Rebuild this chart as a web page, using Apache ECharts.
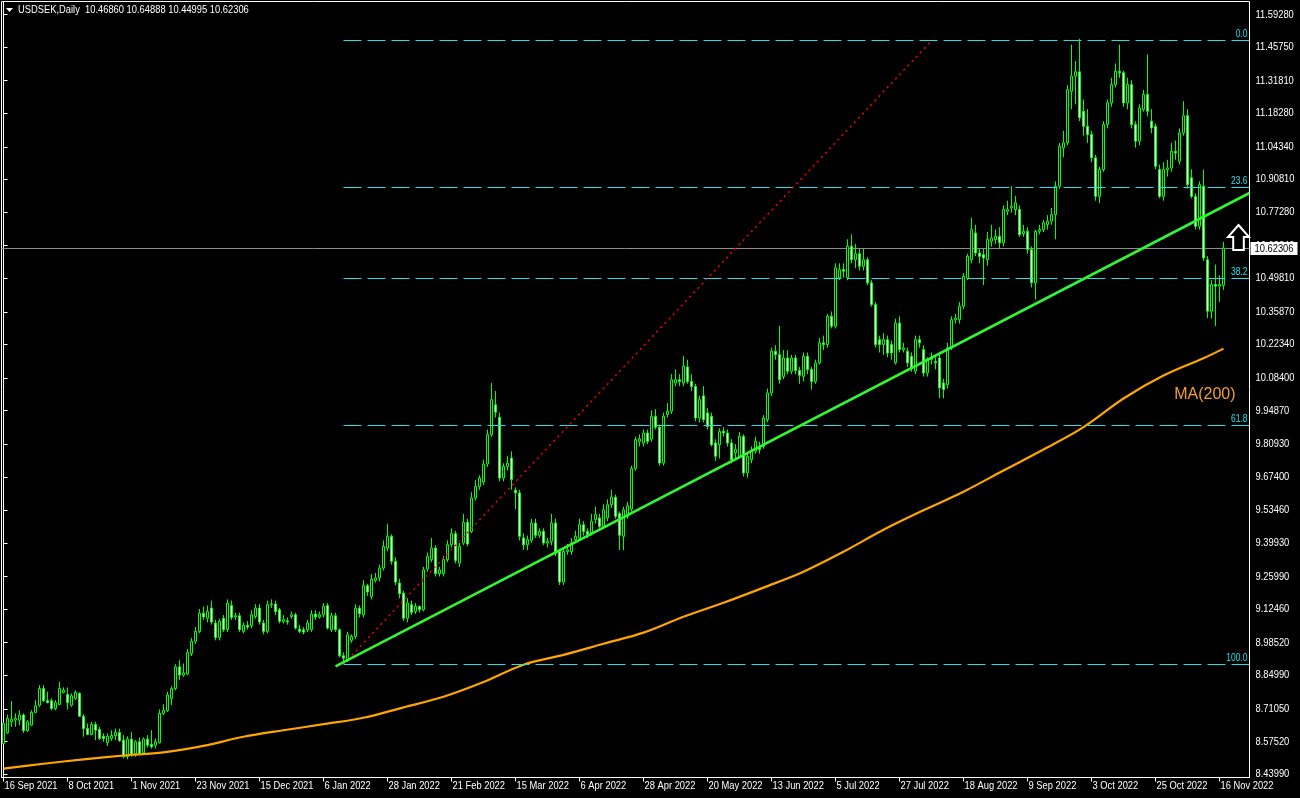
<!DOCTYPE html>
<html><head><meta charset="utf-8">
<script src="https://cdn.jsdelivr.net/npm/echarts@6/dist/echarts.min.js"></script>
<style>html,body{margin:0;padding:0;background:#000;overflow:hidden}#c{width:1300px;height:798px;}</style>
</head><body><div id="c"></div>
<script>
const symbolTitle = 'USDSEK,Daily  10.46860 10.64888 10.44995 10.62306';
const firstDate = [2021, 8, 16];
const barCount = 306;
const slotCount = 312;
const labelEvery = 16;
// [open, close, low, high]
const candles = [
[8.567,8.650,8.563,8.655],[8.611,8.671,8.607,8.687],[8.657,8.667,8.636,8.743],[8.664,8.671,8.636,8.692],[8.664,8.685,8.643,8.705],
[8.685,8.620,8.611,8.692],[8.620,8.657,8.615,8.664],[8.643,8.696,8.639,8.705],[8.696,8.723,8.692,8.747],[8.726,8.795,8.719,8.809],
[8.795,8.744,8.740,8.809],[8.745,8.737,8.733,8.782],[8.744,8.712,8.705,8.754],[8.712,8.736,8.705,8.747],[8.729,8.795,8.726,8.823],
[8.779,8.788,8.775,8.800],[8.770,8.736,8.708,8.800],[8.726,8.765,8.719,8.775],[8.754,8.779,8.747,8.788],[8.775,8.680,8.678,8.779],
[8.680,8.629,8.595,8.689],[8.629,8.604,8.602,8.650],[8.604,8.646,8.602,8.657],[8.646,8.622,8.581,8.657],[8.625,8.588,8.581,8.636],
[8.597,8.588,8.574,8.609],[8.570,8.597,8.556,8.609],[8.588,8.600,8.578,8.622],[8.599,8.613,8.581,8.629],[8.613,8.578,8.574,8.629],
[8.581,8.512,8.505,8.602],[8.512,8.585,8.501,8.597],[8.585,8.523,8.512,8.615],[8.523,8.574,8.512,8.581],[8.574,8.526,8.519,8.592],
[8.528,8.585,8.519,8.592],[8.585,8.560,8.550,8.602],[8.564,8.553,8.546,8.622],[8.560,8.574,8.546,8.588],[8.570,8.692,8.567,8.708],
[8.692,8.705,8.685,8.730],[8.703,8.768,8.698,8.782],[8.754,8.795,8.726,8.805],[8.795,8.885,8.788,8.896],[8.885,8.851,8.830,8.913],
[8.851,8.860,8.844,8.899],[8.856,8.945,8.850,8.960],[8.940,8.991,8.930,9.005],[8.991,9.032,8.980,9.050],[9.032,9.108,9.025,9.125],
[9.108,9.092,9.080,9.135],[9.087,9.115,9.070,9.140],[9.129,9.071,9.060,9.160],[9.067,9.007,8.995,9.080],[9.007,9.074,8.995,9.085],
[9.087,9.039,9.030,9.100],[9.040,9.150,9.030,9.165],[9.140,9.090,9.080,9.160],[9.092,9.097,9.080,9.110],[9.097,9.039,9.030,9.110],
[9.032,9.057,9.025,9.070],[9.057,9.050,9.040,9.075],[9.056,9.101,9.045,9.120],[9.094,9.129,9.085,9.145],[9.129,9.071,9.060,9.145],
[9.067,9.032,9.020,9.080],[9.032,9.143,9.025,9.160],[9.143,9.146,9.130,9.165],[9.146,9.115,9.100,9.160],[9.122,9.074,9.065,9.130],
[9.074,9.081,9.065,9.100],[9.076,9.071,9.060,9.090],[9.094,9.101,9.085,9.115],[9.101,9.046,9.040,9.110],[9.042,9.032,9.025,9.060],
[9.039,9.029,9.020,9.050],[9.039,9.067,9.030,9.080],[9.039,9.104,9.030,9.120],[9.104,9.092,9.080,9.120],[9.092,9.101,9.085,9.115],
[9.101,9.136,9.090,9.150],[9.140,9.046,9.040,9.150],[9.039,9.097,9.030,9.110],[9.097,9.039,9.030,9.110],[9.039,8.931,8.925,9.045],
[8.931,8.921,8.898,8.945],[8.915,9.018,8.905,9.030],[8.995,9.011,8.985,9.020],[9.011,9.129,9.000,9.145],[9.129,9.106,9.090,9.140],
[9.101,9.222,9.090,9.245],[9.222,9.196,9.180,9.230],[9.177,9.249,9.165,9.270],[9.244,9.254,9.235,9.275],[9.254,9.295,9.240,9.310],
[9.295,9.385,9.285,9.410],[9.378,9.427,9.365,9.479],[9.427,9.323,9.310,9.435],[9.323,9.237,9.225,9.340],[9.233,9.189,9.170,9.250],
[9.191,9.087,9.075,9.200],[9.087,9.150,9.070,9.170],[9.143,9.111,9.100,9.160],[9.115,9.136,9.105,9.150],[9.136,9.122,9.110,9.140],
[9.122,9.288,9.115,9.300],[9.291,9.344,9.280,9.360],[9.330,9.378,9.320,9.420],[9.378,9.272,9.260,9.390],[9.272,9.288,9.260,9.300],
[9.272,9.330,9.260,9.345],[9.330,9.392,9.320,9.410],[9.392,9.438,9.380,9.460],[9.438,9.327,9.315,9.450],[9.316,9.385,9.300,9.400],
[9.399,9.485,9.390,9.520],[9.485,9.395,9.385,9.500],[9.447,9.586,9.440,9.610],[9.586,9.634,9.575,9.660],[9.634,9.669,9.620,9.680],
[9.652,9.727,9.640,9.745],[9.727,9.849,9.715,9.870],[9.849,9.994,9.840,10.063],[9.973,9.942,9.920,10.030],[9.921,9.669,9.655,9.940],
[9.669,9.717,9.655,9.730],[9.717,9.731,9.700,9.760],[9.752,9.662,9.620,9.780],[9.618,9.607,9.540,9.630],[9.607,9.427,9.410,9.620],
[9.420,9.392,9.370,9.440],[9.392,9.413,9.370,9.430],[9.410,9.482,9.400,9.500],[9.482,9.431,9.420,9.500],[9.431,9.447,9.420,9.460],
[9.447,9.399,9.390,9.460],[9.399,9.406,9.380,9.420],[9.406,9.482,9.390,9.520],[9.482,9.357,9.345,9.500],[9.364,9.237,9.225,9.375],
[9.237,9.364,9.225,9.380],[9.364,9.371,9.350,9.395],[9.364,9.399,9.350,9.420],[9.413,9.427,9.400,9.450],[9.420,9.475,9.410,9.500],
[9.475,9.447,9.430,9.490],[9.447,9.434,9.420,9.460],[9.441,9.489,9.430,9.520],[9.496,9.517,9.480,9.550],[9.503,9.468,9.455,9.520],
[9.468,9.537,9.460,9.560],[9.503,9.558,9.490,9.580],[9.558,9.590,9.545,9.620],[9.589,9.510,9.500,9.600],[9.521,9.431,9.370,9.530],
[9.427,9.537,9.370,9.550],[9.510,9.554,9.500,9.570],[9.540,9.708,9.530,9.720],[9.708,9.828,9.700,9.840],[9.821,9.831,9.800,9.850],
[9.814,9.856,9.800,9.870],[9.856,9.820,9.810,9.870],[9.830,9.925,9.820,9.950],[9.925,9.880,9.870,9.955],[9.880,9.731,9.720,9.890],
[9.731,9.925,9.720,9.940],[9.932,9.946,9.920,9.980],[9.946,10.077,9.935,10.100],[10.063,10.077,10.050,10.120],[10.077,10.070,10.050,10.100],
[10.063,10.133,10.050,10.175],[10.130,10.070,10.060,10.160],[10.070,10.049,10.030,10.100],[10.049,9.918,9.905,10.060],[9.918,9.994,9.900,10.010],
[10.010,9.911,9.900,10.050],[9.939,9.883,9.870,9.960],[9.925,9.807,9.800,9.940],[9.814,9.759,9.740,9.830],[9.807,9.863,9.750,9.875],
[9.863,9.856,9.840,9.880],[9.856,9.814,9.800,9.870],[9.814,9.745,9.730,9.830],[9.773,9.787,9.750,9.810],[9.759,9.842,9.750,9.860],
[9.842,9.690,9.675,9.850],[9.690,9.759,9.670,9.770],[9.745,9.780,9.730,9.800],[9.780,9.821,9.770,9.840],[9.800,9.787,9.770,9.820],
[9.800,9.918,9.790,9.930],[9.911,10.022,9.900,10.040],[10.022,10.195,10.010,10.210],[10.195,10.181,10.160,10.220],[10.181,10.077,10.060,10.300],
[10.090,10.167,10.080,10.200],[10.167,10.112,10.100,10.200],[10.112,10.167,10.100,10.180],[10.167,10.115,10.100,10.180],[10.115,10.095,10.060,10.130],
[10.091,10.174,10.070,10.190],[10.174,10.119,10.100,10.190],[10.119,10.070,10.036,10.130],[10.070,10.147,10.060,10.160],[10.147,10.230,10.140,10.250],
[10.230,10.223,10.200,10.260],[10.223,10.340,10.210,10.350],[10.340,10.299,10.290,10.360],[10.299,10.541,10.290,10.560],[10.500,10.534,10.490,10.560],
[10.534,10.527,10.500,10.560],[10.500,10.631,10.490,10.660],[10.631,10.575,10.560,10.680],[10.575,10.600,10.540,10.640],[10.600,10.548,10.530,10.620],
[10.548,10.575,10.530,10.620],[10.575,10.479,10.470,10.585],[10.479,10.389,10.380,10.490],[10.389,10.223,10.210,10.400],[10.243,10.223,10.190,10.260],
[10.223,10.243,10.180,10.270],[10.243,10.188,10.170,10.260],[10.223,10.188,10.160,10.240],[10.147,10.312,10.140,10.330],[10.312,10.202,10.190,10.340],
[10.202,10.209,10.190,10.230],[10.195,10.147,10.130,10.210],[10.174,10.126,10.110,10.190],[10.112,10.243,10.100,10.260],[10.243,10.230,10.210,10.260],
[10.202,10.105,10.090,10.220],[10.105,10.160,10.090,10.170],[10.160,10.167,10.140,10.190],[10.153,10.147,10.120,10.170],[10.167,10.043,10.000,10.180],
[10.063,10.036,10.000,10.080],[10.056,10.209,10.040,10.230],[10.209,10.326,10.200,10.340],[10.326,10.333,10.310,10.350],[10.326,10.382,10.310,10.400],
[10.382,10.506,10.370,10.520],[10.499,10.589,10.490,10.600],[10.575,10.700,10.560,10.750],[10.686,10.603,10.590,10.720],[10.603,10.589,10.560,10.620],
[10.596,10.582,10.470,10.620],[10.575,10.659,10.550,10.690],[10.652,10.665,10.630,10.720],[10.659,10.672,10.640,10.700],[10.672,10.645,10.620,10.710],
[10.645,10.783,10.630,10.800],[10.776,10.783,10.760,10.820],[10.790,10.797,10.770,10.880],[10.783,10.811,10.760,10.840],[10.783,10.679,10.670,10.800],
[10.683,10.693,10.670,10.720],[10.693,10.617,10.600,10.710],[10.617,10.479,10.460,10.630],[10.479,10.693,10.410,10.700],[10.693,10.700,10.680,10.720],
[10.700,10.728,10.690,10.740],[10.721,10.735,10.700,10.760],[10.735,10.762,10.720,10.790],[10.762,10.880,10.660,10.900],[10.880,11.046,10.870,11.060],
[11.039,11.060,11.000,11.110],[11.060,11.281,11.050,11.300],[11.274,11.337,11.200,11.468],[11.337,11.355,11.220,11.400],[11.355,11.164,11.150,11.492],
[11.191,11.129,11.090,11.240],[11.129,11.095,11.060,11.200],[11.095,10.998,10.980,11.110],[10.998,10.838,10.820,11.010],[10.838,10.949,10.810,10.960],
[10.949,11.136,10.940,11.150],[11.136,11.226,11.120,11.240],[11.226,11.302,11.210,11.330],[11.302,11.357,11.290,11.390],[11.357,11.351,11.330,11.468],
[11.351,11.226,11.210,11.360],[11.226,11.302,11.200,11.330],[11.302,11.136,11.120,11.320],[11.136,11.067,11.040,11.150],[11.067,11.205,11.050,11.220],
[11.198,11.261,11.190,11.280],[11.261,11.191,11.170,11.427],[11.150,11.122,11.100,11.200],[11.129,10.963,10.950,11.140],[10.949,10.838,10.830,10.970],
[10.838,10.949,10.820,10.980],[10.949,10.956,10.920,10.990],[10.956,11.025,10.940,11.060],[11.025,11.018,10.990,11.070],[10.984,11.101,10.970,11.120],
[11.101,11.173,11.090,11.233],[11.173,10.887,10.870,11.200],[10.915,10.838,10.830,10.950],[10.838,10.714,10.700,10.850],[10.714,10.887,10.700,10.900],
[10.880,10.582,10.570,10.949],[10.575,10.361,10.333,10.590],[10.361,10.472,10.330,10.490],[10.472,10.465,10.299,10.555],[10.465,10.472,10.400,10.510],
[10.46860,10.62306,10.44995,10.64888]
];
// MA(200) read at bar indices
const ma200 = [[0,8.463],[10,8.483],[20,8.501],[30,8.517],[40,8.530],[50,8.557],[60,8.595],[70,8.622],[80,8.647],[90,8.674],
[100,8.717],[110,8.761],[120,8.822],[130,8.894],[140,8.935],[150,8.981],[160,9.027],[170,9.093],[180,9.151],[190,9.214],
[200,9.280],[210,9.363],[220,9.454],[230,9.535],[240,9.612],[250,9.700],[260,9.787],[270,9.880],[280,9.999],[290,10.094],[300,10.166],[305,10.206]];
const trendLine = [[83, 8.887], [311.5, 10.852]];
const fibLow = 8.8967, fibHigh = 11.4836, fibStartIdx = 85, fibEndIdx = 232;
const fibRatios = [0, 23.6, 38.2, 61.8, 100];
const fibLabels = ['0.0', '23.6', '38.2', '61.8', '100.0'];
const yTicks = [8.43990,8.57520,8.71050,8.84990,8.98520,9.12460,9.25990,9.39930,9.53460,9.67400,9.80930,9.94870,
10.08400,10.22340,10.35870,10.49810,10.63340,10.77280,10.90810,11.04340,11.18280,11.31810,11.45750,11.59280];
const currentPrice = 10.62306;
const maLabel = 'MA(200)';

const months = ['Jan','Feb','Mar','Apr','May','Jun','Jul','Aug','Sep','Oct','Nov','Dec'];
const categories = [];
(function(){
  const d = new Date(Date.UTC(firstDate[0], firstDate[1], firstDate[2]));
  while (categories.length < slotCount) {
    const wd = d.getUTCDay();
    if (wd !== 0 && wd !== 6) categories.push(d.getUTCDate() + ' ' + months[d.getUTCMonth()] + ' ' + d.getUTCFullYear());
    d.setUTCDate(d.getUTCDate() + 1);
  }
})();

const FONT = "'Liberation Sans',Arial,sans-serif";
const NARROW = 0.85;
const CYAN = '#22E0EA';
const GREEN = '#00FF00';
const showIdx = (i) => i < barCount && i % labelEvery === 0;
const rightIdx = slotCount - 0.5;
const Y_MIN = 8.4258, Y_MAX = 11.6468;

const chart = echarts.init(document.getElementById('c'), null, {renderer: 'canvas'});
const series = [
  {type: 'candlestick', xAxisIndex: 0, yAxisIndex: 0, data: candles, barWidth: 2, z: 2,
   itemStyle: {color: '#000', color0: '#fff', borderColor: GREEN, borderColor0: GREEN, borderWidth: 1}, silent: true},
  {type: 'line', xAxisIndex: 1, yAxisIndex: 0, data: ma200, symbol: 'none', z: 3, silent: true, smooth: 0.35,
   lineStyle: {color: '#FFA500', width: 2.2}},
  {type: 'line', xAxisIndex: 1, yAxisIndex: 0, data: [[fibStartIdx, fibLow], [fibEndIdx, fibHigh]], symbol: 'none', z: 4, silent: true,
   lineStyle: {color: '#FF0000', width: 1.5, type: [2, 4]}},
  {type: 'line', xAxisIndex: 1, yAxisIndex: 0, data: trendLine, symbol: 'none', z: 5, silent: true,
   lineStyle: {color: '#33F533', width: 2.6}}
];

chart.setOption({
  animation: false,
  backgroundColor: '#000',
  grid: {left: 1.5, right: 50.5, top: 1.5, bottom: 20.5, show: true, borderColor: '#fff', borderWidth: 1, backgroundColor: '#000'},
  xAxis: [
    {type: 'category', data: categories, boundaryGap: true, gridIndex: 0,
     axisLine: {show: true, lineStyle: {color: '#fff', width: 1}},
     axisTick: {show: true, alignWithLabel: true, interval: (i) => showIdx(i), length: 4, lineStyle: {color: '#fff'}},
     axisLabel: {show: false},
     splitLine: {show: false}},
    {type: 'value', min: -0.5, max: rightIdx, show: false, gridIndex: 0}
  ],
  yAxis: [{type: 'value', position: 'right', min: Y_MIN, max: Y_MAX, gridIndex: 0,
    axisLine: {show: true, lineStyle: {color: '#fff', width: 1}},
    axisTick: {show: true, length: 4, customValues: yTicks, lineStyle: {color: '#fff'}},
    axisLabel: {show: false, customValues: yTicks},
    splitLine: {show: false}}],
  series: series
});

const px = (i, v) => chart.convertToPixel({seriesIndex: 1}, [i, v]);
const snap = (v) => Math.round(v - 0.5) + 0.5;
const gfx = [];
const narrowText = (x, y, text, opts) => gfx.push(Object.assign({type: 'text', x: x, y: y, scaleX: NARROW, z: 100,
  style: Object.assign({text: text, fill: '#fff', font: '11px ' + FONT, verticalAlign: 'middle'}, opts || {})}));

// title
gfx.push({type: 'polygon', shape: {points: [[6, 8], [13, 8], [9.5, 12]]}, style: {fill: '#fff'}, z: 100});
narrowText(18, 10, symbolTitle);

// x-axis labels (every 16 bars)
const bottomY = px(0, Y_MIN)[1];
categories.forEach((c, i) => {
  if (!showIdx(i)) return;
  const p = chart.convertToPixel({xAxisIndex: 0}, c);
  narrowText(p + 1, bottomY + 3, c, {verticalAlign: 'top'});
});
// y-axis labels
const axisX = px(rightIdx, Y_MIN)[0];
yTicks.forEach((t) => {
  const p = px(rightIdx, t);
  narrowText(axisX + 6, p[1], t.toFixed(5));
});

// current price line
const cp = px(rightIdx, currentPrice);
const cpy = snap(cp[1]);
gfx.push({type: 'line', shape: {x1: px(-0.5, currentPrice)[0], y1: cpy, x2: cp[0], y2: cpy}, style: {stroke: '#8c8c8c', lineWidth: 1}, z: 1, silent: true});

// fib levels
fibRatios.forEach((r, k) => {
  const lvl = fibHigh - r / 100 * (fibHigh - fibLow);
  const a = px(fibStartIdx, lvl), b = px(rightIdx, lvl);
  const yy = snap(a[1]);
  gfx.push({type: 'line', shape: {x1: a[0], y1: yy, x2: b[0], y2: yy}, style: {stroke: CYAN, lineWidth: 1, lineDash: [18, 6]}, z: 4, silent: true});
  gfx.push({type: 'text', x: b[0] - 2, y: yy - 1.5, scaleX: NARROW, z: 100,
    style: {text: fibLabels[k], fill: CYAN, font: '10px ' + FONT, align: 'right', verticalAlign: 'bottom'}});
});

// price label box
gfx.push({type: 'rect', shape: {x: cp[0] + 1, y: cpy - 6.5, width: 47, height: 13}, style: {fill: '#fff'}, z: 100});
narrowText(cp[0] + 5, cpy + 0.5, currentPrice.toFixed(5), {fill: '#000'});
gfx[gfx.length - 1].z = 101;

// up arrow
const ap = px(309, currentPrice);
const ax = ap[0] - 1, ay = cpy + 1.5;
gfx.push({type: 'polygon', shape: {points: [[ax, ay - 25], [ax + 10.5, ay - 13], [ax + 5.3, ay - 13], [ax + 5.3, ay], [ax - 5.3, ay], [ax - 5.3, ay - 13], [ax - 10.5, ay - 13]]},
  style: {fill: '#000', stroke: '#fff', lineWidth: 2}, z: 100});

// MA label
const mp = px(308, 10.015);
gfx.push({type: 'text', x: mp[0], y: mp[1], z: 100, style: {text: maLabel, fill: '#F0A030', font: '16px ' + FONT, align: 'right', verticalAlign: 'middle'}});

chart.setOption({graphic: gfx});
</script>
</body></html>
